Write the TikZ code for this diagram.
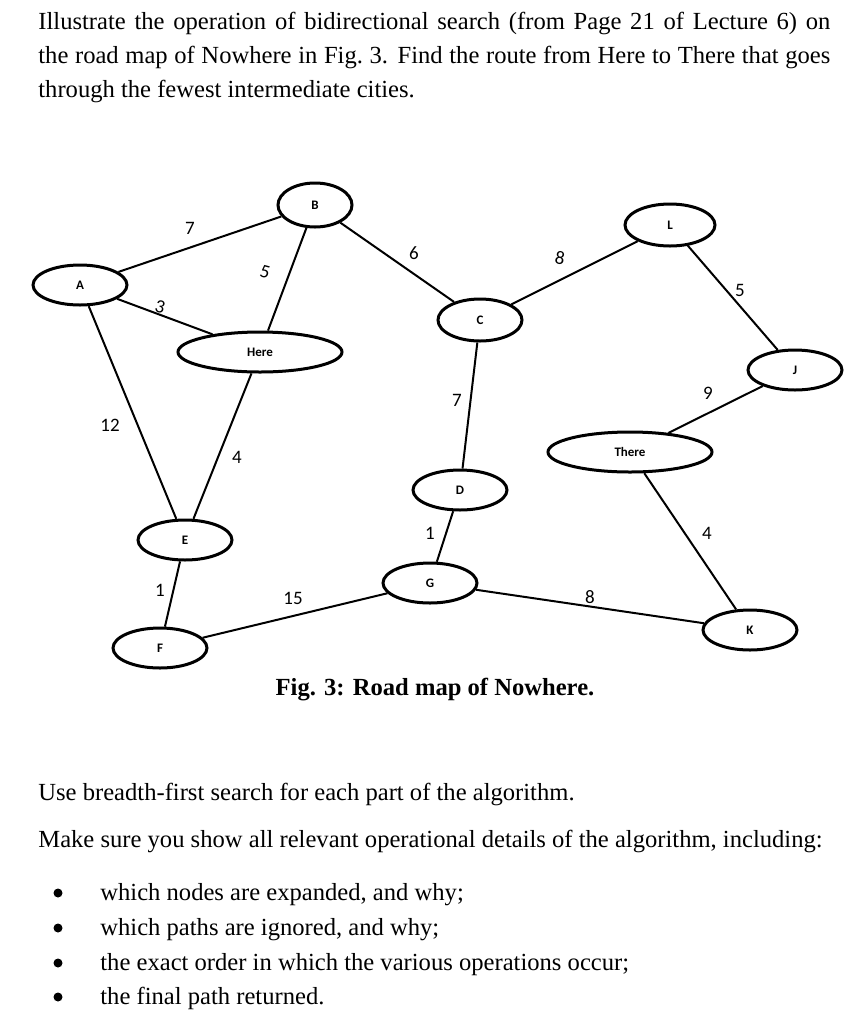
\documentclass[tikz,border=0pt]{standalone}
\usepackage{fontspec}
\setmainfont{Liberation Serif}
\newfontfamily\lab{Carlito}
\usetikzlibrary{shapes.geometric}
\begin{document}
\begin{tikzpicture}[x=0.5pt,y=-0.5pt,
  city/.style={ellipse,draw,line width=1.5pt,inner sep=0pt,font=\lab\bfseries\fontsize{6.5}{7}\selectfont},
  road/.style={line width=1pt},
  wt/.style={font=\lab\fontsize{9.5}{10}\selectfont,inner sep=1pt},
  txt/.style={anchor=base west,inner sep=0pt,font=\fontsize{12.3}{14}\selectfont}]
\useasboundingbox (0,0) rectangle (847,1024);
\node[anchor=north west,inner sep=0pt,text width=396pt,align=justify,font=\fontsize{12.3}{17}\selectfont] (q) at (38,12)
 {Illustrate the operation of bidirectional search (from Page 21 of Lecture 6) on the road map of Nowhere in Fig.~3. Find the route from Here to There that goes through the fewest intermediate cities.};
\node[city,minimum width=47pt,minimum height=20pt] (A) at (80,285) {A};
\node[city,minimum width=37pt,minimum height=22pt] (B) at (315,205) {B};
\node[city,minimum width=82pt,minimum height=20pt] (H) at (260,352) {Here};
\node[city,minimum width=42pt,minimum height=21pt] (C) at (480,320) {C};
\node[city,minimum width=45pt,minimum height=21pt] (L) at (670,225) {L};
\node[city,minimum width=47pt,minimum height=20pt] (J) at (795,370) {J};
\node[city,minimum width=82pt,minimum height=20pt] (T) at (630,452) {There};
\node[city,minimum width=47pt,minimum height=20pt] (D) at (460,490) {D};
\node[city,minimum width=47pt,minimum height=20pt] (E) at (185,540) {E};
\node[city,minimum width=47pt,minimum height=20pt] (G) at (430,583) {G};
\node[city,minimum width=47pt,minimum height=20pt] (F) at (160,648) {F};
\node[city,minimum width=47pt,minimum height=20pt] (K) at (750,630) {K};
\draw[road] (A) -- (B); \node[wt] (w1) at (190,228) {7};
\draw[road] (A) -- (H); \node[wt,rotate=-15] (w2) at (160,307) {3};
\draw[road] (A) -- (E); \node[wt] (w3) at (110,425) {12};
\draw[road] (H) -- (B); \node[wt,rotate=-15] (w4) at (265,272) {5};
\draw[road] (H) -- (E); \node[wt] (w5) at (237,457) {4};
\draw[road] (B) -- (C); \node[wt] (w6) at (414,253) {6};
\draw[road] (C) -- (L); \node[wt,rotate=-10] (w7) at (560,258) {8};
\draw[road] (C) -- (D); \node[wt] (w8) at (457,400) {7};
\draw[road] (L) -- (J); \node[wt] (w9) at (740,290) {5};
\draw[road] (J) -- (T); \node[wt] (w10) at (708,393) {9};
\draw[road] (T) -- (K); \node[wt] (w11) at (707,533) {4};
\draw[road] (D) -- (G); \node[wt] (w12) at (430,533) {1};
\draw[road] (E) -- (F); \node[wt] (w13) at (160,590) {1};
\draw[road] (F) -- (G); \node[wt] (w14) at (293,598) {15};
\draw[road] (G) -- (K); \node[wt] (w15) at (590,597) {8};
\node[font=\bfseries\fontsize{12.3}{14}\selectfont] (cap) at (435,690) {Fig. 3: Road map of Nowhere.};
\node[txt] (u) at (38,800) {Use breadth-first search for each part of the algorithm.};
\node[txt] (m) at (38,847) {Make sure you show all relevant operational details of the algorithm, including:};
\foreach \y/\t [count=\i] in {900/{which nodes are expanded, and why;},935/{which paths are ignored, and why;},970/{the exact order in which the various operations occur;},1004/{the final path returned.}}{
  \fill (58,\y-7) circle (4.5);
  \node[txt] (b\i) at (100,\y) {\t};
}
\end{tikzpicture}
\end{document}
